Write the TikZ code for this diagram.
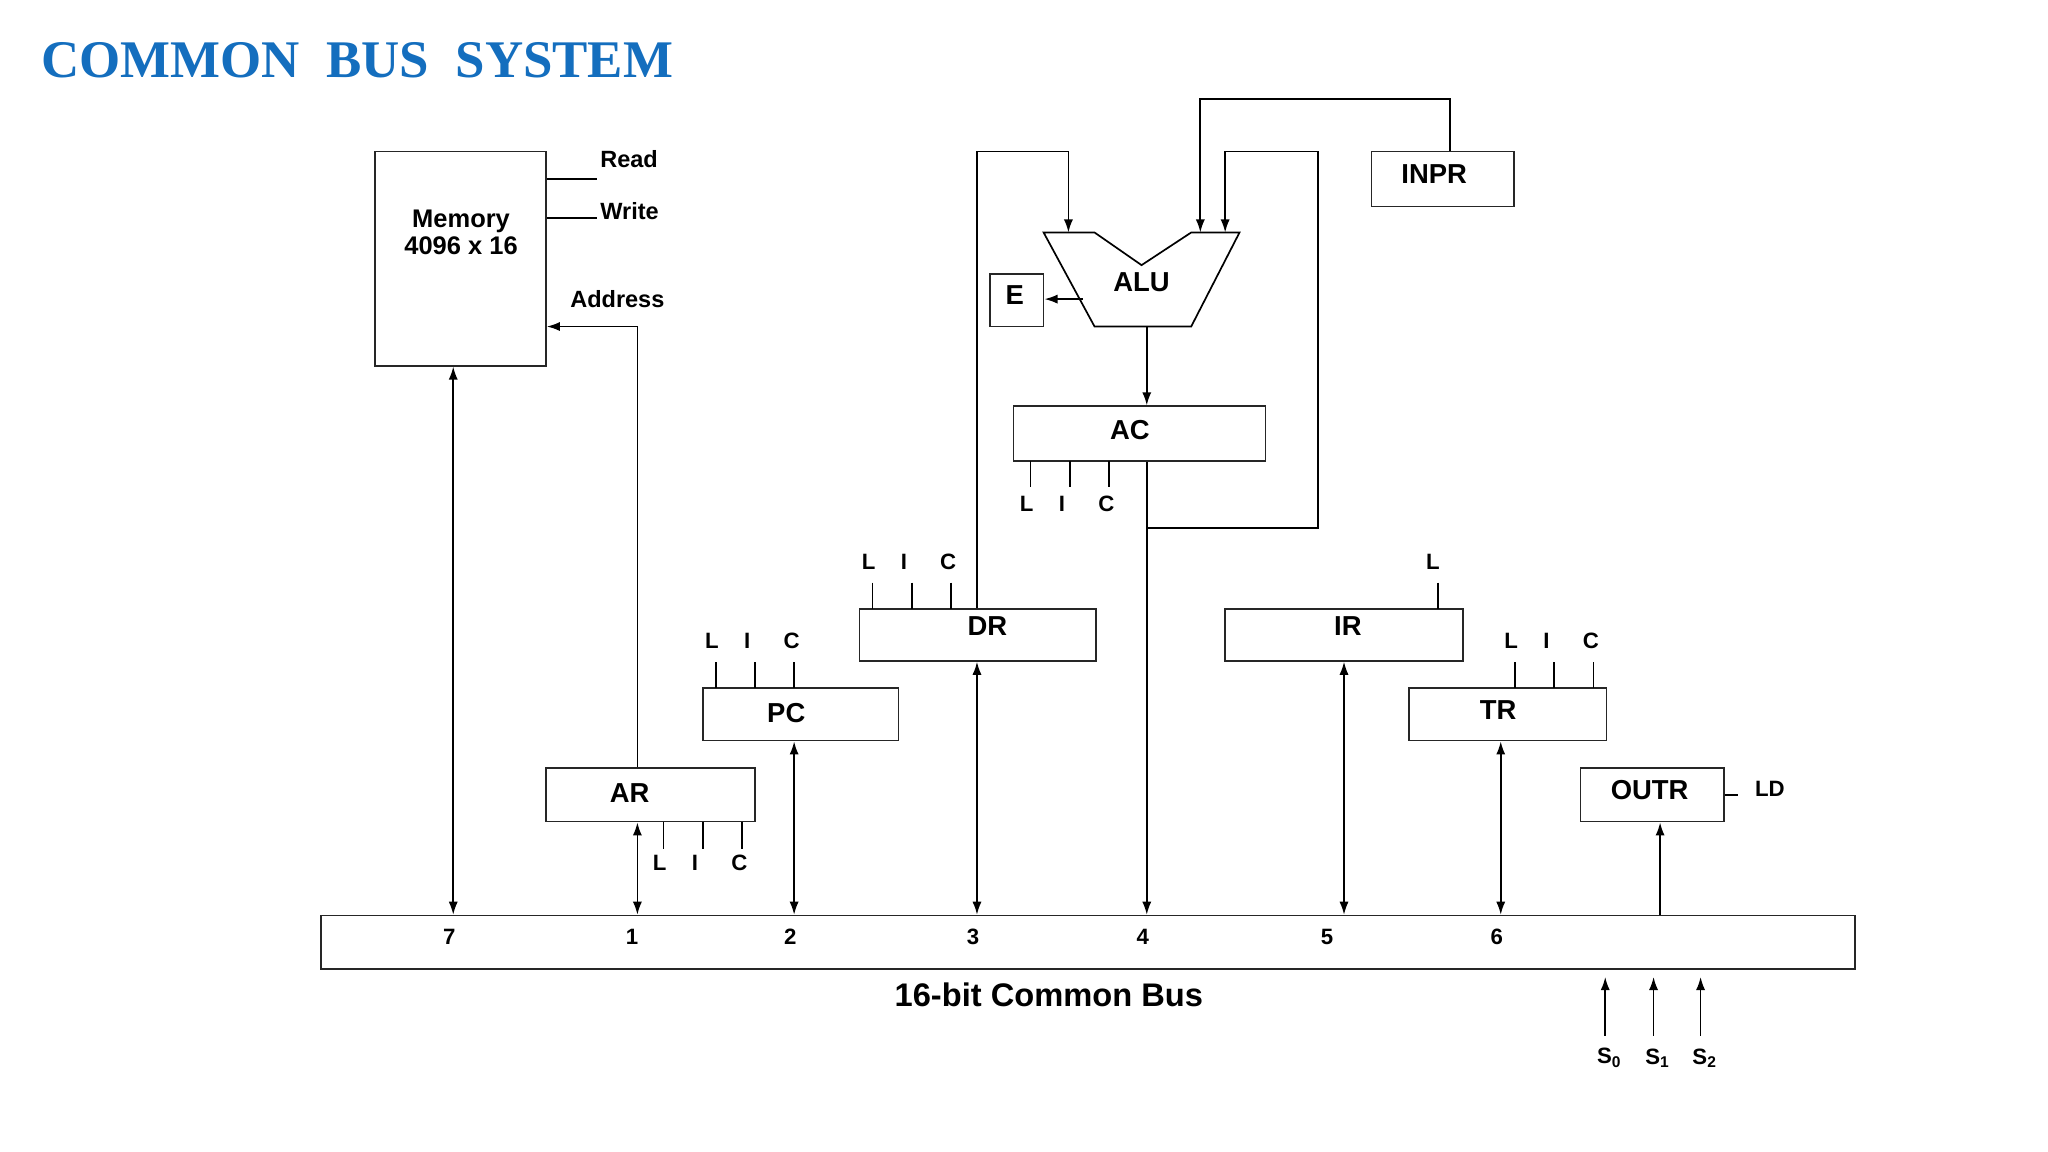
\documentclass[tikz,border=0pt]{standalone}
\usepackage{fontspec}
\setmainfont{Liberation Sans}
\newfontfamily\titlefont{Liberation Serif}
\usetikzlibrary{arrows.meta,calc}
\definecolor{titleblue}{RGB}{20,110,190}
\begin{document}
\begin{tikzpicture}[x=1pt,y=-1pt,line width=1.3pt,
  >={Latex[length=10pt,width=7pt]},
  reg/.style={draw=black!85,rectangle,inner sep=0pt},
  rl/.style={font=\fontsize{21}{23}\selectfont\bfseries,inner sep=0pt},
  sig/.style={font=\fontsize{17}{19}\selectfont\bfseries,inner sep=0pt},
  lbl/.style={font=\fontsize{18}{20}\selectfont\bfseries,inner sep=0pt,anchor=west},
  num/.style={font=\fontsize{17}{19}\selectfont\bfseries,inner sep=0pt}]
\useasboundingbox (0,0) rectangle (1568,882);
\node[anchor=west,inner sep=0pt,text=titleblue,font=\titlefont\fontsize{40.5}{42}\selectfont\bfseries] (title) at (31,46) {COMMON\ \ BUS\ \ SYSTEM};

% boxes
\node[reg,minimum width=131,minimum height=164] (mem) at (352.5,198) {};
\node[font=\fontsize{19.5}{21}\selectfont\bfseries,align=center,inner sep=0pt] (memt) at (353,178) {Memory\\4096 x 16};
\node[reg,minimum width=1174,minimum height=41] (bus) at (833,721.5) {};
\node[reg,minimum width=160,minimum height=41] (AR) at (498,608.5) {};
\node[reg,minimum width=150,minimum height=40] (PC) at (613,547) {};
\node[reg,minimum width=181,minimum height=40] (DR) at (748.5,486) {};
\node[reg,minimum width=193,minimum height=42] (AC) at (872.5,332) {};
\node[reg,minimum width=182,minimum height=40] (IR) at (1029,486) {};
\node[reg,minimum width=151,minimum height=40] (TR) at (1154.5,547) {};
\node[reg,minimum width=110,minimum height=41] (OUTR) at (1265,608.5) {};
\node[reg,minimum width=109,minimum height=42] (INPR) at (1104.5,137) {};
\node[reg,minimum width=41,minimum height=40] (E) at (778.5,230) {};
\node[rl] (ARt) at (482,607) {AR};
\node[rl] (PCt) at (602,546) {PC};
\node[rl] (DRt) at (756,479) {DR};
\node[rl] (ACt) at (865,329) {AC};
\node[rl] (IRt) at (1032,479) {IR};
\node[rl] (TRt) at (1147,544) {TR};
\node[rl] (OUTRt) at (1263,605) {OUTR};
\node[rl] (INPRt) at (1098,133) {INPR};
\node[rl] (Et) at (777,226) {E};

% ALU
\draw (799,178) -- (838,178) -- (874,203) -- (912,178) -- (949,178) -- (912,250) -- (838,250) -- cycle;
\node[rl] (ALU) at (874,216) {ALU};
\coordinate (alub) at (878,250);
\coordinate (alul) at (829,229);

% memory controls
\coordinate (rd) at (457,137);
\coordinate (wr) at (457,167);
\draw (mem.east |- rd) -- (rd);
\draw (mem.east |- wr) -- (wr);
\node[lbl] (read) at (459,122) {Read};
\node[lbl] (write) at (459,162) {Write};
\node[lbl] (addr) at (436,229) {Address};

% bus taps
\coordinate (x7) at (347,0); \coordinate (x1) at (488,0); \coordinate (x2) at (608,0);
\coordinate (x3) at (748,0); \coordinate (x4) at (878,0); \coordinate (x5) at (1029,0);
\coordinate (x6) at (1149,0); \coordinate (xo) at (1271,0);
\draw[<->] (x7 |- mem.south) -- (x7 |- bus.north);
\draw[<->] (x1 |- AR.south) -- (x1 |- bus.north);
\draw[<->] (x2 |- PC.south) -- (x2 |- bus.north);
\draw[<->] (x3 |- DR.south) -- (x3 |- bus.north);
\draw[->] (x4 |- AC.south) -- (x4 |- bus.north);
\draw[<->] (x5 |- IR.south) -- (x5 |- bus.north);
\draw[<->] (x6 |- TR.south) -- (x6 |- bus.north);
\draw[->] (xo |- bus.north) -- (xo |- OUTR.south);

% AR to address
\draw[->] (x1 |- AR.north) -- (488,250) -- (mem.east |- 0,250);
% DR to ALU
\draw[->] (x3 |- DR.north) -- (748,116) -- (818,116) -- (818,178);
% INPR to ALU
\draw[->] (INPR.north -| 1110,0) -- (1110,76) -- (919,76) -- (919,178);
% AC feedback
\draw[->] (878,404) -- (1009,404) -- (1009,116) -- (938,116) -- (938,178);
% ALU to AC, ALU to E
\draw[->] (alub) -- (alub |- AC.north);
\draw[->] (alul) -- (E.east |- alul);

% bus numbers
\foreach \n/\x in {7/344,1/484,2/605,3/745,4/875,5/1016,6/1146} \node[num] (n\n) at (\x,717) {\n};
\node[font=\fontsize{25}{27}\selectfont\bfseries,inner sep=0pt] (busl) at (803,762) {16-bit Common Bus};

% selects
\foreach \i/\x in {0/1229,1/1266,2/1302} {
  \coordinate (s\i) at (\x,793);
  \draw[->] (s\i) -- (\x,748);
  \node[sig] (sl\i) at (\x+3,810) {S$_{\mathbf{\i}}$};
}

% LIC controls
\foreach \x in {508,538,568} \draw (\x,629) -- (\x,650);
\node[sig] at (505,661) {L}; \node[sig] at (532,661) {I}; \node[sig] at (566,661) {C};
\foreach \x in {548,578,608} \draw (\x,507) -- (\x,527);
\node[sig] at (545,491) {L}; \node[sig] at (572,491) {I}; \node[sig] at (606,491) {C};
\foreach \x in {668,698,728} \draw (\x,446) -- (\x,466);
\node[sig] at (665,430) {L}; \node[sig] at (692,430) {I}; \node[sig] at (726,430) {C};
\foreach \x in {789,819,849} \draw (\x,353) -- (\x,373);
\node[sig] at (786,386) {L}; \node[sig] at (813,386) {I}; \node[sig] at (847,386) {C};
\draw (1101,446) -- (1101,466); \node[sig] at (1097,430) {L};
\foreach \x in {1160,1190,1220} \draw (\x,507) -- (\x,527);
\node[sig] at (1157,491) {L}; \node[sig] at (1184,491) {I}; \node[sig] at (1218,491) {C};
\draw (OUTR.east) -- ++(10,0);
\node[sig] (ld) at (1355,604) {LD};
\end{tikzpicture}
\end{document}
